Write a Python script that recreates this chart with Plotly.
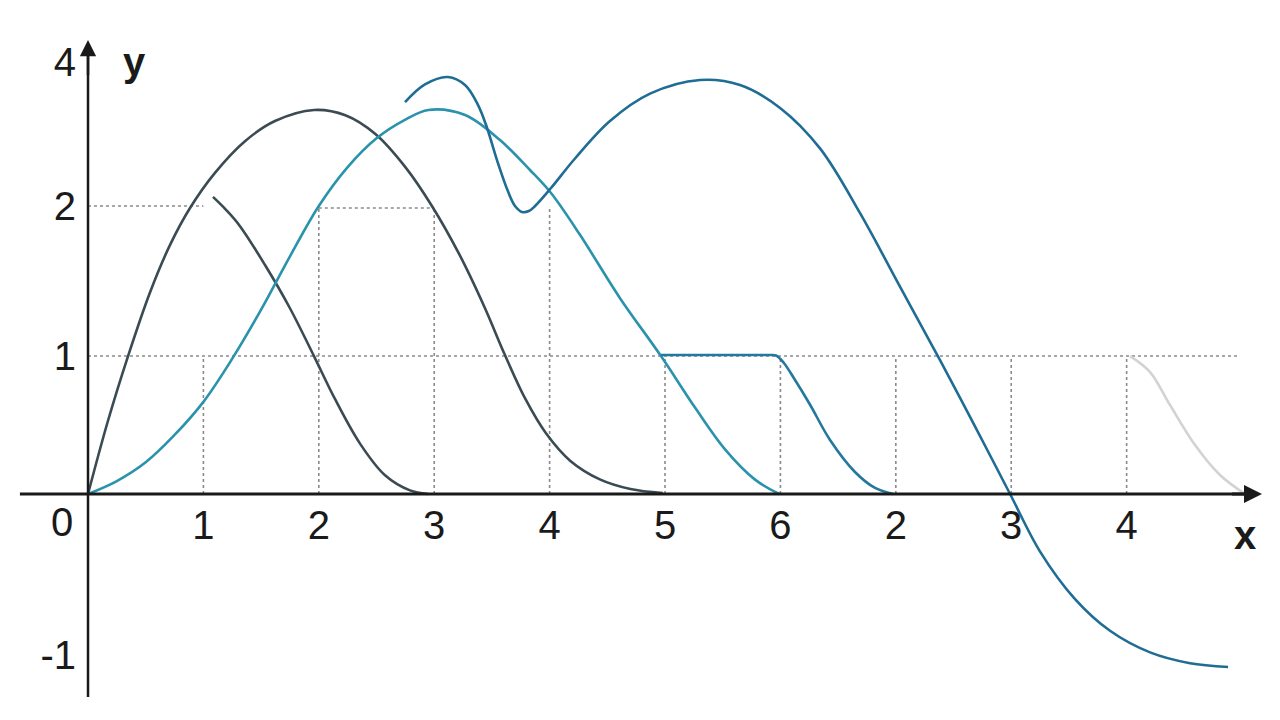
import plotly.graph_objects as go

# curve points (x in axis units, y in drawn units)
dark_big_x = [0, 0.17, 0.347, 0.537, 0.711, 0.884, 1.10, 1.36, 1.62, 1.96, 2.23, 2.49, 2.75, 2.98,
              3.22, 3.44, 3.61, 3.79, 3.97, 4.18, 4.44, 4.70, 4.98]
dark_big_y = [0, 0.50, 0.958, 1.40, 1.73, 1.986, 2.23, 2.45, 2.59, 2.667, 2.63, 2.50, 2.27, 2.0,
              1.66, 1.29, 0.97, 0.66, 0.42, 0.23, 0.10, 0.035, 0.007]

dark_small_x = [1.083, 1.2, 1.317, 1.534, 1.750, 1.958, 2.140, 2.357, 2.574, 2.790, 2.946]
dark_small_y = [2.063, 1.97, 1.86, 1.59, 1.29, 0.958, 0.66, 0.35, 0.13, 0.025, 0]

teal_x = [0, 0.25, 0.5, 0.75, 1.0, 1.25, 1.5, 1.75, 2.0, 2.25, 2.5, 2.75, 2.95, 3.267, 3.570,
          3.83, 4.012, 4.263, 4.610, 4.965, 5.26, 5.52, 5.78, 5.99]
teal_y = [0, 0.09, 0.22, 0.41, 0.64, 0.94, 1.28, 1.65, 2.0, 2.27, 2.47, 2.60, 2.667, 2.632, 2.458,
          2.25, 2.09, 1.80, 1.36, 0.958, 0.60, 0.31, 0.10, 0]

wave_x = [2.747, 2.920, 3.120, 3.267, 3.380, 3.458, 3.544, 3.640, 3.70, 3.761, 3.82, 3.874, 4.012, 4.220,
          4.523, 4.870, 5.303, 5.650, 5.997, 6.343, 6.690, 7.036, 7.383, 7.686, 7.990, 8.250, 8.553,
          8.856, 9.203, 9.549, 9.879]
wave_y = [2.722, 2.845, 2.896, 2.840, 2.701, 2.542, 2.319, 2.10, 2.00, 1.958, 1.965, 2.0, 2.125, 2.33,
          2.59, 2.78, 2.875, 2.840, 2.681, 2.40, 1.95, 1.44, 0.93, 0.47, 0, -0.40, -0.73,
          -0.95, -1.10, -1.175, -1.201]

plateau_x = [4.965, 5.30, 5.70, 5.90, 5.962, 6.03, 6.12, 6.257, 6.430, 6.646, 6.820, 6.976]
plateau_y = [0.965, 0.965, 0.965, 0.965, 0.962, 0.91, 0.80, 0.62, 0.375, 0.153, 0.042, 0]

grey_x = [9.03, 9.203, 9.376, 9.593, 9.809, 10.026]
grey_y = [0.958, 0.847, 0.618, 0.340, 0.132, 0]

# dotted guides
guide_x = [1, 2, 3, 4, 5, 6, 7, 8, 9]
guide_top = [0.958, 1.986, 1.986, 2.0, 0.958, 0.958, 0.958, 0.958, 0.958]
level_one = 0.958
level_two = 2.0

# tick labels
x_tickvals = [1, 2, 3, 4, 5, 6, 7, 8, 9]
x_ticktext = ['1', '2', '3', '4', '5', '6', '2', '3', '4']
y_tickvals = [-1.118, 0.958, 2.0, 3.0]
y_ticktext = ['-1', '1', '2', '4']

fig = go.Figure()

dot = dict(color='#8a8a8a', width=1.6, dash='dot')
for gx, gt in zip(guide_x, guide_top):
    fig.add_trace(go.Scatter(x=[gx, gx], y=[0, gt], mode='lines', line=dot, hoverinfo='skip'))
fig.add_trace(go.Scatter(x=[0, 9.965], y=[level_one, level_one], mode='lines', line=dot, hoverinfo='skip'))
fig.add_trace(go.Scatter(x=[0, 1], y=[level_two, level_two], mode='lines', line=dot, hoverinfo='skip'))
fig.add_trace(go.Scatter(x=[2, 3], y=[1.986, 1.986], mode='lines', line=dot, hoverinfo='skip'))

curves = [
    (grey_x, grey_y, '#d3d3d3'),
    (dark_big_x, dark_big_y, '#3b4b54'),
    (dark_small_x, dark_small_y, '#3b4b54'),
    (teal_x, teal_y, '#2a93ac'),
    (plateau_x, plateau_y, '#23789c'),
    (wave_x, wave_y, '#1f6d94'),
]
for cx, cy, col in curves:
    fig.add_trace(go.Scatter(x=cx, y=cy, mode='lines', line=dict(color=col, width=2.6, shape='spline', smoothing=1.0)))

# axes lines with arrows
fig.add_shape(type='line', x0=-0.59, x1=10.1, y0=0, y1=0, line=dict(color='#1a1a1a', width=3))
fig.add_shape(type='line', x0=0, x1=0, y0=-1.41, y1=3.08, line=dict(color='#1a1a1a', width=2.5))
fig.add_annotation(x=10.173, y=0, ax=9.9, ay=0, axref='x', ayref='y', text='', showarrow=True,
                   arrowhead=2, arrowsize=1.2, arrowwidth=3, arrowcolor='#1a1a1a')
fig.add_annotation(x=0, y=3.153, ax=0, ay=2.9, axref='x', ayref='y', text='', showarrow=True,
                   arrowhead=2, arrowsize=1.3, arrowwidth=2.5, arrowcolor='#1a1a1a')

fig.add_annotation(x=-0.225, y=-0.194, text='0', showarrow=False, font=dict(size=40, color='#1a1a1a'))
fig.add_annotation(x=0.407, y=3.0, text='<b>y</b>', showarrow=False, font=dict(size=40, color='#1a1a1a'))
fig.add_annotation(x=10.026, y=-0.285, text='<b>x</b>', showarrow=False, font=dict(size=40, color='#1a1a1a'))

fig.update_layout(
    width=1280, height=720,
    margin=dict(l=0, r=0, t=0, b=0),
    plot_bgcolor='white', paper_bgcolor='white',
    showlegend=False,
    font=dict(family='Liberation Sans, Arial, sans-serif', size=40, color='#1a1a1a'),
    xaxis=dict(range=[-0.7626, 10.329], anchor='free', position=0.3139, showgrid=False, zeroline=False,
               showline=False, ticks='', tickvals=x_tickvals, ticktext=x_ticktext, ticklabelstandoff=4),
    yaxis=dict(range=[-1.5694, 3.4306], anchor='free', position=0.06875, showgrid=False, zeroline=False,
               showline=False, ticks='', tickvals=y_tickvals, ticktext=y_ticktext, ticklabelstandoff=12),
)

# page body has a default margin; drop it so the figure sits at the window corner
fig.write_html("out.html", config={'displayModeBar': False},
               post_script="document.body.style.margin='0';")
